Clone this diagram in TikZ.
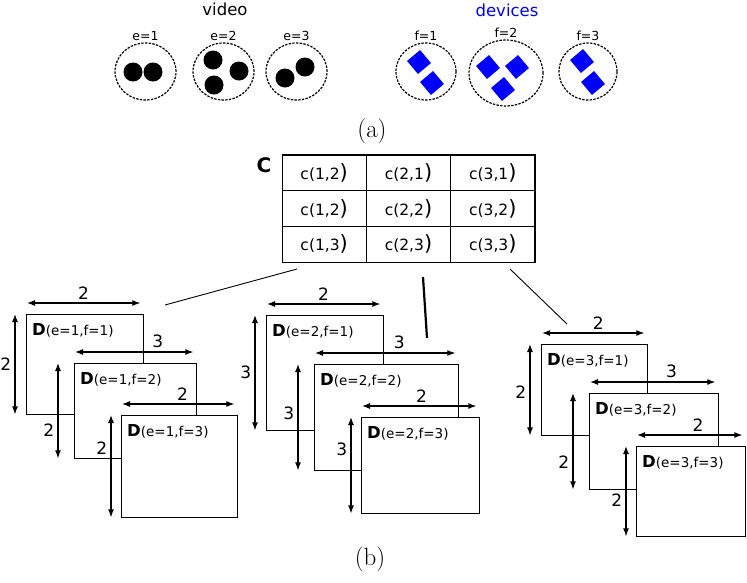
\documentclass[tikz,border=0pt]{standalone}
\usepackage{fontspec}
\setsansfont{DejaVu Sans}
\usepackage{tikz}
\usetikzlibrary{arrows.meta,matrix,positioning,shapes.geometric}
\definecolor{dgBlue}{HTML}{0000FF}
\newcommand{\cellval}[2]{c(#1,#2{\fontsize{21}{21}\selectfont)}}
\tikzset{
  dg diagram/.style={x=1pt,y=-1pt},
  dg title/.style={font=\sffamily\fontsize{16.5}{18}\selectfont},
  dg index/.style={font=\sffamily\fontsize{12.5}{14}\selectfont, inner sep=1pt},
  dg group/.style={ellipse, draw, dash pattern=on 2.4pt off 1.3pt,
    line width=1.2pt, inner sep=0pt},
  dg item/.style={circle, fill=black, minimum size=19pt, inner sep=0pt},
  dg device/.style={rectangle, fill=dgBlue, minimum size=17pt,
    inner sep=0pt, rotate=40},
  dg cell/.style={draw, line width=1.1pt, minimum width=84.3pt,
    minimum height=35.7pt, inner sep=0pt,
    font=\sffamily\fontsize{15.5}{17}\selectfont},
  dg panel/.style={draw, fill=white, line width=1.3pt, inner sep=0pt},
  dg tag/.style={font=\sffamily\fontsize{13.5}{15}\selectfont, inner sep=0pt},
  dg dim/.style={{Latex[length=8pt,width=6pt]}-{Latex[length=8pt,width=6pt]},
    line width=1.1pt},
  dg num/.style={font=\sffamily\fontsize{17}{19}\selectfont},
  dg link/.style={line width=0.9pt},
  dg caption/.style={font=\fontsize{25}{28}\selectfont}
}
\begin{document}
\begin{tikzpicture}[dg diagram]
\useasboundingbox (0,0) rectangle (747,582);
% (a) video and devices
\node[dg title] (video) at (225,9) {video};
\node[dg title, text=dgBlue] (devices) at (507,10) {devices};
\foreach \i/\x in {1/145.5,2/223.5,3/296.5}{
  \node[dg group, minimum width=61pt, minimum height=57pt] (v\i) at (\x,71.5) {};
  \node[dg index, above=1pt of v\i] (ve\i) {e=\i};
}
\foreach \i/\x/\y/\w/\h in {1/426/71.5/60/57,2/506/73/74/66,3/588/71.5/58/57}{
  \node[dg group, minimum width=\w pt, minimum height=\h pt] (f\i) at (\x,\y) {};
  \node[dg index, above=1pt of f\i] (fe\i) {f=\i};
}
\foreach \p [count=\k] in {(133,72),(153,72),(213,60),(239,71),(214,85),(285,78),(305,67)}
  \node[dg item] (dot\k) at \p {};
\foreach \p [count=\k] in {(419,62),(432,83),(488,67),(517,67),(503,89),(582,61),(593,83)}
  \node[dg device] (dev\k) at \p {};
\node[dg caption] (capa) at (372,131) {(a)};
% (b) cost matrix
\matrix[matrix of nodes, nodes={dg cell}, column sep=-1.1pt, row sep=-1.1pt]
  (cmat) at (408.5,208.5) {
  \cellval{1}{2} & \cellval{2}{1} & \cellval{3}{1} \\
  \cellval{1}{2} & \cellval{2}{2} & \cellval{3}{2} \\
  \cellval{1}{3} & \cellval{2}{3} & \cellval{3}{3} \\
};
\node[font=\sffamily\bfseries\fontsize{20}{22}\selectfont] (clabel) at (264,165) {C};
\coordinate (m1) at (297,269); \coordinate (g1) at (165,305);
\coordinate (m2) at (423,277); \coordinate (g2) at (427,338);
\coordinate (m3) at (510,269); \coordinate (g3) at (567,324);
\draw[dg link] (m1) -- (g1);
\draw[dg link, line width=2.2pt] (m2) -- (g2);
\draw[dg link] (m3) -- (g3);
% distance panels
\foreach \ei/\fj/\xa/\ya/\xb/\yb/\dx/\hl/\hp/\vl/\vp in {
  1/1/26/314/143/414/11/2/0.5/2/0.5,
  1/2/74/363/196/458/16/3/0.7/2/0.71,
  1/3/121/415/237/517/10/2/0.54/2/0.32,
  2/1/266/315/383/430/11/2/0.5/3/0.5,
  2/2/314/364/458/470/16/3/0.6/3/0.46,
  2/3/361/417/479/513/10/2/0.52/3/0.34,
  3/1/541/344/647/435/11/2/0.55/2/0.53,
  3/2/589/393/718/489/16/3/0.65/2/0.72,
  3/3/636/446/745/536/10/2/0.58/2/0.6}{
  \node[dg panel, anchor=north west, minimum width={(\xb-\xa)*1pt},
    minimum height={(\yb-\ya)*1pt}] (d\ei\fj) at (\xa,\ya) {};
  \node[dg tag, anchor=base west] (t\ei\fj) at ([shift={(6,21)}]d\ei\fj.north west)
    {{\bfseries\fontsize{16.5}{18}\selectfont D}(e=\ei,f=\fj)};
  \draw[dg dim] ([shift={(1,-11)}]d\ei\fj.north west)
    -- node[dg num, above, pos=\hp] {\hl} ([shift={(-4,-11)}]d\ei\fj.north east);
  \draw[dg dim] ([shift={(-\dx,0)}]d\ei\fj.north west)
    -- node[dg num, left, pos=\vp] {\vl} ([shift={(-\dx,-1)}]d\ei\fj.south west);
}
\node[dg caption] (capb) at (370,559) {(b)};
\end{tikzpicture}
\end{document}
